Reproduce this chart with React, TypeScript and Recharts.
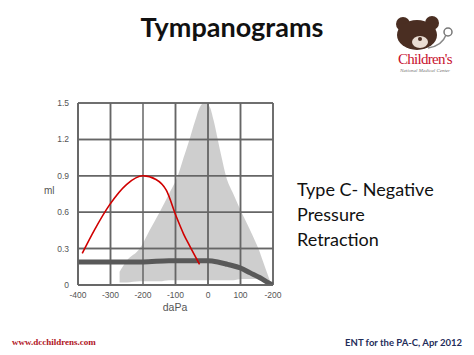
import React from 'react'
import { ComposedChart, Area, Line, XAxis, YAxis, CartesianGrid, ReferenceLine } from 'recharts'

// dark flat trace (type C, patient)
const traceX = [-400, -300, -200, -120, -50, 0, 30, 60, 100, 130, 160, 185, 198]
const traceY = [0.19, 0.19, 0.19, 0.2, 0.2, 0.2, 0.19, 0.17, 0.14, 0.1, 0.06, 0.02, 0.0]

// red negative-pressure peak
const redX = [-387, -350, -303, -250, -200, -160, -128, -97, -75, -56, -26]
const redY = [0.26, 0.45, 0.66, 0.83, 0.9, 0.87, 0.78, 0.56, 0.42, 0.32, 0.17]

// grey normal range
const bandX = [-272, -250, -210, -180, -149, -120, -93, -75, -57, -40, -22, -10, 5, 18, 30, 42, 55, 78, 103, 130, 155, 175, 195]
const bandLow = [0.02, 0.02, 0.03, 0.03, 0.03, 0.04, 0.04, 0.04, 0.04, 0.04, 0.04, 0.04, 0.04, 0.04, 0.04, 0.04, 0.04, 0.04, 0.05, 0.05, 0.05, 0.04, 0.0]
const bandHigh = [0.11, 0.2, 0.3, 0.45, 0.6, 0.75, 0.9, 1.05, 1.2, 1.35, 1.48, 1.5, 1.47, 1.35, 1.2, 1.05, 0.9, 0.75, 0.6, 0.45, 0.3, 0.15, 0.0]

const xTicks = [-400, -300, -200, -100, 0, 100, 200]
const xTickLabels = ['-400', '-300', '-200', '-100', '0', '100', '-200']
const yTicks = [0, 0.3, 0.6, 0.9, 1.2, 1.5]
const yTickLabels = ['0', '0.3', '0.6', '0.9', '1.2', '1.5']

const sideLines = ['Type C- Negative', 'Pressure', 'Retraction']

const trace = traceX.map((x, i) => ({ x, v: traceY[i] }))
const red = redX.map((x, i) => ({ x, v: redY[i] }))
const band = bandX.map((x, i) => ({ x, range: [bandLow[i], bandHigh[i]] }))

const tickStyle = { fontSize: 8.5, fill: '#555', fontFamily: 'Liberation Sans, Arial' }
const gridColor = '#666'

function Logo() {
  return (
    <svg width={100} height={70} style={{ position: 'absolute', left: 370, top: 10 }}>
      <circle cx={33} cy={14} r={7} fill="#4a2e22" />
      <circle cx={62} cy={13} r={7} fill="#4a2e22" />
      <ellipse cx={47} cy={25} rx={20} ry={15} fill="#4a2e22" />
      <ellipse cx={50} cy={32} rx={8} ry={6} fill="#e9ddd3" />
      <circle cx={50} cy={29} r={2} fill="#4a2e22" />
      <path d="M58 38 Q72 36 76 25" stroke="#888" strokeWidth={1.5} fill="none" />
      <circle cx={78} cy={22} r={4} fill="#fff" stroke="#777" strokeWidth={1.5} />
      <text x={55} y={54} textAnchor="middle" fontFamily="Liberation Serif, serif" fontSize={15} fill="#c8102e" letterSpacing={-0.7}>Children's</text>
      <text x={55} y={62} textAnchor="middle" fontFamily="Liberation Serif, serif" fontStyle="italic" fontSize={5} fill="#777">National Medical Center</text>
    </svg>
  )
}

export default function App() {
  return (
    <div style={{ position: 'fixed', left: 0, top: 0, width: 474, height: 355, background: '#fff', overflow: 'hidden' }}>
      <div style={{ position: 'absolute', left: 0, width: 464, top: 10, textAlign: 'center', fontFamily: 'Lato, sans-serif', fontWeight: 700, fontSize: 27, color: '#111' }}>
        Tympanograms
      </div>
      <Logo />
      <div style={{ position: 'absolute', left: 0, top: 0 }}>
        <ComposedChart width={474} height={355} margin={{ top: 103, left: 48, right: 201, bottom: 40 }}>
          <XAxis
            type="number"
            dataKey="x"
            domain={[-400, 200]}
            ticks={xTicks}
            tickFormatter={(v) => xTickLabels[xTicks.indexOf(v)]}
            tick={tickStyle}
            tickLine={false}
            axisLine={{ stroke: gridColor, strokeWidth: 1.5 }}
            height={30}
            tickMargin={1}
            allowDuplicatedCategory={false}
          />
          <YAxis
            type="number"
            domain={[0, 1.5]}
            ticks={yTicks}
            tickFormatter={(v) => yTickLabels[yTicks.indexOf(v)]}
            tick={tickStyle}
            tickLine={false}
            axisLine={{ stroke: gridColor, strokeWidth: 1.5 }}
            width={30}
            tickMargin={3}
            allowDataOverflow
          />
          <CartesianGrid stroke={gridColor} strokeWidth={1.5} />
          {xTicks.map((t) => (
            <ReferenceLine key={'vx' + t} x={t} stroke={gridColor} strokeWidth={1.5} />
          ))}
          {yTicks.map((t) => (
            <ReferenceLine key={'hy' + t} y={t} stroke={gridColor} strokeWidth={1.5} />
          ))}
          <Area data={band} dataKey="range" type="monotone" fill="#8a8a8a" fillOpacity={0.42} stroke="none" isAnimationActive={false} />
          <Line data={trace} dataKey="v" type="monotone" stroke="#595959" strokeWidth={5} dot={false} isAnimationActive={false} />
          <Line data={red} dataKey="v" type="monotone" stroke="#d00000" strokeWidth={1.6} dot={false} isAnimationActive={false} />
        </ComposedChart>
      </div>
      <div style={{ position: 'absolute', left: 44, top: 185, fontFamily: 'Liberation Sans, Arial', fontSize: 10, color: '#555' }}>ml</div>
      <div style={{ position: 'absolute', left: 150, width: 50, textAlign: 'center', top: 301, fontFamily: 'Liberation Sans, Arial', fontSize: 10.5, color: '#555' }}>daPa</div>
      <div style={{ position: 'absolute', left: 297, top: 177, fontFamily: 'Lato, sans-serif', fontSize: 18, lineHeight: '25px', color: '#111' }}>
        {sideLines.map((s) => (
          <div key={s}>{s}</div>
        ))}
      </div>
      <div style={{ position: 'absolute', left: 12, top: 337, fontFamily: 'Liberation Serif, serif', fontWeight: 700, fontSize: 9, color: '#b0141e' }}>www.dcchildrens.com</div>
      <div style={{ position: 'absolute', right: 12, top: 337, fontFamily: 'Lato, sans-serif', fontWeight: 700, fontSize: 9.5, color: '#1f2d5a' }}>ENT for the PA-C, Apr 2012</div>
    </div>
  )
}
